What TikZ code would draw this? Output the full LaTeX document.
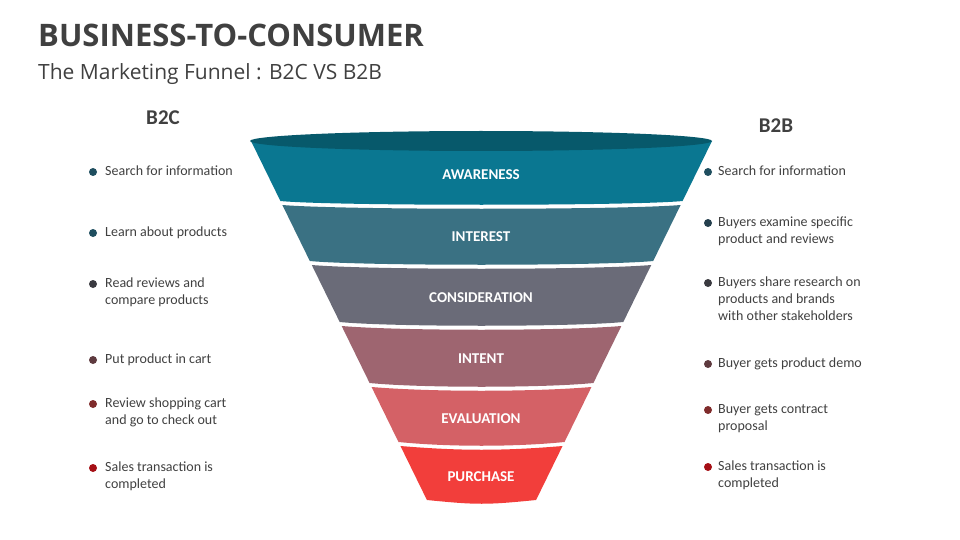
\documentclass[tikz,border=0pt]{standalone}
\usepackage{fontspec}
\setmainfont{Carlito}
\newfontfamily\titlefont{Open Sans}
\definecolor{cA}{HTML}{0A7791}
\definecolor{cB}{HTML}{3A7183}
\definecolor{cC}{HTML}{6A6B78}
\definecolor{cD}{HTML}{9E6570}
\definecolor{cE}{HTML}{D46166}
\definecolor{cF}{HTML}{F23E3B}
\definecolor{cTop}{HTML}{07596B}
\definecolor{txt}{HTML}{404040}
\definecolor{dA}{HTML}{1F4E5F}
\definecolor{dB}{HTML}{243F4D}
\definecolor{dC}{HTML}{3A3A40}
\definecolor{dD}{HTML}{5E3A3F}
\definecolor{dE}{HTML}{7F2B2B}
\definecolor{dF}{HTML}{A50F15}
\begin{document}
\begin{tikzpicture}[x=1pt,y=-1pt,
  lbl/.style={text=white,font=\bfseries\fontsize{15}{17}\selectfont},
  item/.style={anchor=north west,align=left,text=txt,font=\fontsize{14}{17}\selectfont,inner sep=0pt},
  dot/.style={circle,inner sep=0pt,minimum size=8pt}]
\useasboundingbox (0,0) rectangle (960,540);
\node[anchor=west,inner sep=0pt,text=txt,font=\titlefont\bfseries\fontsize{31}{34}\selectfont] (title) at (38,35) {BUSINESS-TO-CONSUMER};
\node[anchor=west,inner sep=0pt,text=txt,font=\titlefont\fontsize{21}{24}\selectfont] (sub) at (38,74) {The Marketing Funnel : B2C VS B2B};
\node[text=txt,font=\bfseries\fontsize{21}{24}\selectfont] (b2c) at (163,118) {B2C};
\node[text=txt,font=\bfseries\fontsize{21}{24}\selectfont] (b2b) at (776,126) {B2B};
\def\L#1{251+0.49*(#1-141)}
\def\R#1{712-0.49*(#1-141)}
\foreach \t/\b/\c/\s/\n in {141/201/cA/AWARENESS/fa,205/261/cB/INTEREST/fb,265/322/cC/CONSIDERATION/fc,326/383/cD/INTENT/fd,387/442/cE/EVALUATION/fe,446/500/cF/PURCHASE/ff}{
  \pgfmathsetmacro\xl{\L{\t}}\pgfmathsetmacro\xr{\R{\t}}
  \pgfmathsetmacro\bl{\L{\b}}\pgfmathsetmacro\br{\R{\b}}
  \pgfmathsetmacro\bm{\b+5}\pgfmathsetmacro\tm{\t+5}
  \fill[\c] (\xl,\t) .. controls (\xl+60,\tm) and (\xr-60,\tm) .. (\xr,\t) -- (\br,\b) .. controls (\br-50,\bm) and (\bl+50,\bm) .. (\bl,\b) -- cycle;
  \node[lbl] (\n) at (481,{(\t+\b)/2+4}) {\s};
}
\fill[cTop] (481,141) ellipse [x radius=231, y radius=10];
\foreach \y/\c/\s/\n in {171/dA/Search for information/l1,232/dA/Learn about products/l2,283/dC/{Read reviews and\\compare products}/l3,359/dD/Put product in cart/l4,403/dE/{Review shopping cart\\and go to check out}/l5,467/dF/{Sales transaction is\\completed}/l6}{
  \node[item] (\n) at (105,\y-5) {\s};
  \node[dot,fill=\c] (\n d) at (93,\y+1) {};
}
\foreach \y/\c/\s/\n in {171/dA/Search for information/r1,222/dB/{Buyers examine specific\\product and reviews}/r2,282/dC/{Buyers share research on\\products and brands\\with other stakeholders}/r3,363/dD/Buyer gets product demo/r4,409/dE/{Buyer gets contract\\proposal}/r5,466/dF/{Sales transaction is\\completed}/r6}{
  \node[item] (\n) at (718,\y-5) {\s};
  \node[dot,fill=\c] (\n d) at (708,\y+1) {};
}
\end{tikzpicture}
\end{document}
